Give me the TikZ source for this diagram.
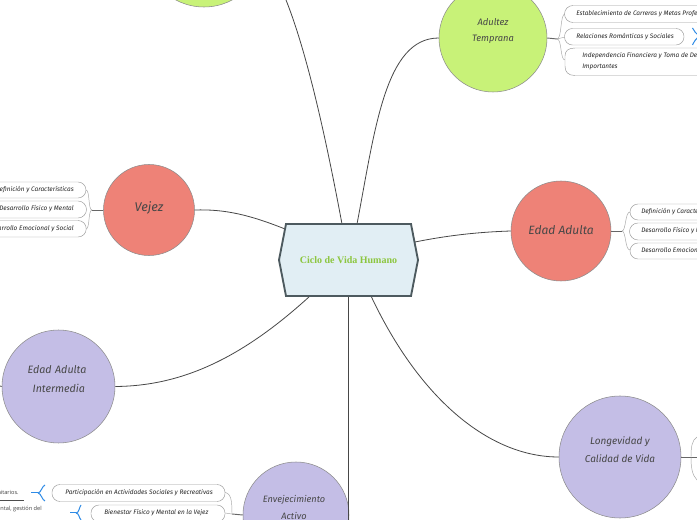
\documentclass[tikz,border=0pt]{standalone}
\usepackage{fontspec}
\setmainfont{Liberation Serif}
\newfontfamily\handfont{Fira Sans}[ItalicFont={Fira Sans Italic}]
\newfontfamily\plainfont{Open Sans}
\definecolor{lime1}{HTML}{C8F278}
\definecolor{red1}{HTML}{EE8277}
\definecolor{purple1}{HTML}{C4BEE6}
\definecolor{blue1}{HTML}{2E8BE6}
\definecolor{hexfill}{HTML}{E1EEF4}
\definecolor{hexline}{HTML}{4D5A5F}
\definecolor{hextext}{HTML}{8CC63F}
\tikzset{
  x=0.75pt,y=-0.75pt,
  conn/.style={draw=black!72!white,line width=0.6pt},
  bigc/.style={circle,draw=black!45!white,line width=0.4pt,inner sep=0pt},
  bigt/.style={inner sep=0pt,align=center,text=black!72,font=\handfont\itshape\fontsize{#1}{13}\selectfont},
  limec/.style={bigc,fill=lime1},
  redc/.style={bigc,fill=red1},
  purc/.style={bigc,fill=purple1},
  pill/.style={draw=black!40!white,line width=0.35pt,fill=white},
  ptext/.style={font=\handfont\itshape\fontsize{4.85}{8}\selectfont,text=black!85,inner sep=0pt,align=left,anchor=west},
  branch/.style={draw=black!35!white,line width=0.35pt},
  hub/.style={draw=black!60!white,line width=0.7pt},
  tick/.style={draw=blue1,line width=0.75pt},
}
\begin{document}
\begin{tikzpicture}
\useasboundingbox (0,0) rectangle (697,520);
\clip (0,0) rectangle (697,520);
\fill[white] (0,0) rectangle (697,520);
% big nodes
\node[limec,minimum size=108*0.75pt] (adultez) at (493,38) {};
\node[limec,minimum size=120*0.75pt] (top) at (204,-53) {};
\node[redc,minimum size=100*0.75pt] (adulta) at (561,231) {};
\node[redc,minimum size=91*0.75pt] (vejez) at (149,210) {};
\node[purc,minimum size=113*0.75pt] (inter) at (58.5,386.5) {};
\node[purc,minimum size=122*0.75pt] (longe) at (620,457) {};
\node[purc,minimum size=106*0.75pt] (acti) at (296,515) {};
\node[bigt=7,font=\handfont\itshape\fontsize{7}{12}\selectfont] (tadultez) at (493,31.5) {Adultez\\Temprana};
\node[bigt=9] (tadulta) at (561,230) {Edad Adulta};
\node[bigt=9.5] (tvejez) at (149,208) {Vejez};
\node[bigt=8,text width=70pt,font=\handfont\itshape\fontsize{8}{14.2}\selectfont] (tinter) at (57,379) {Edad Adulta\\ \ Intermedia};
\node[bigt=7.5,font=\handfont\itshape\fontsize{7.5}{13.5}\selectfont] (tlonge) at (620,450) {Longevidad y\\Calidad de Vida};
\node[bigt=6.9] (tacti) at (294,507.5) {Envejecimiento\\Activo};
% connector ends on the hexagon
\coordinate (hT) at (342,224);
\coordinate (hA) at (357,224);
\coordinate (hR) at (415,242);
\coordinate (hL) at (285,229);
\coordinate (hI) at (310,296);
\coordinate (hB) at (348,296);
\coordinate (hC) at (371,296);
\coordinate (topend) at (286,0);
\coordinate (acB) at (348,520);
\draw[conn] (hT) .. controls (330,160) and (310,60) .. (topend);
\draw[conn] (hA) .. controls (375,130) and (385,38) .. (adultez.west);
\draw[conn] (hR) .. controls (450,235) and (480,232) .. (adulta.west);
\draw[conn] (hL) .. controls (250,215) and (225,209) .. (vejez.east);
\draw[conn] (hI) .. controls (240,360) and (180,386) .. (inter.east);
\draw[conn] (hB) -- (acB);
\draw[conn] (hC) .. controls (420,400) and (490,457) .. (longe.west);
\draw[line width=1.4pt,draw=hexline,fill=hexfill,line join=miter]
  (286,224) -- (411,224) -- (418,260) -- (411,296) -- (286,296) -- (279,260) -- cycle;
\node[font=\bfseries\fontsize{7.5}{9}\selectfont,text=hextext] (hexlabel) at (348.5,260) {Ciclo de Vida Humano};
% Adultez pills
\draw[hub] (adultez.east) -- (557,39);
\draw[branch] (557,39) .. controls (562,39) and (560,14) .. (565,14);
\draw[branch] (557,39) -- (565,37);
\draw[branch] (557,39) .. controls (562,39) and (560,60) .. (565,60);
\draw[pill] (705,5.5) -- (573,5.5) arc[start angle=-90,end angle=-270,radius=8.5] -- (705,22.5);
\draw[pill,rounded corners=6pt] (564.5,28.5) rectangle (684,45);
\draw[pill] (705,48) -- (575,48) .. controls (568,48) and (565,51) .. (565,56) -- (565,66) .. controls (565,72) and (568,75.5) .. (575,75.5) -- (705,75.5);
\node[ptext] (a1) at (576,14) {Establecimiento de Carreras y Metas Profesionales};
\node[ptext] (a2) at (576,36.5) {Relaciones Románticas y Sociales};
\node[ptext] (a3) at (582,61) {Independencia Financiera y Toma de Decisiones\\Importantes};
\draw[tick] (692.5,28) .. controls (694,31) and (696,34) .. (700,36);
\draw[tick] (692.5,45) .. controls (694,42) and (696,38) .. (700,36);
% Edad adulta pills
\draw[hub] (adulta.east) -- (622,231);
\draw[branch] (622,231) .. controls (626,231) and (625,212) .. (630,212);
\draw[branch] (622,231) .. controls (626,231) and (625,250) .. (630,250);
\draw[pill] (705,204) -- (638,204) arc[start angle=-90,end angle=-270,radius=8] -- (705,220);
\draw[pill] (705,223) -- (638,223) arc[start angle=-90,end angle=-270,radius=8.5] -- (705,240);
\draw[pill] (705,243) -- (638,243) arc[start angle=-90,end angle=-270,radius=8] -- (705,259);
\node[ptext] (b1) at (641,212) {Definición y Características};
\node[ptext] (b2) at (641,231) {Desarrollo Físico y Mental};
\node[ptext] (b3) at (641,250.5) {Desarrollo Emocional y Social};
% Vejez pills
\draw[hub] (vejez.west) -- (92,210);
\draw[branch] (92,210) .. controls (88,210) and (90,190) .. (86,190);
\draw[branch] (92,210) .. controls (88,210) and (90,229) .. (86,229);
\draw[pill] (-10,182) -- (78,182) arc[start angle=-90,end angle=90,radius=8] -- (-10,198);
\draw[pill] (-10,201) -- (78,201) arc[start angle=-90,end angle=90,radius=8.5] -- (-10,218);
\draw[pill] (-10,220.5) -- (78,220.5) arc[start angle=-90,end angle=90,radius=8.25] -- (-10,237);
\node[ptext,anchor=east] (c1) at (74,190) {Definición y Características};
\node[ptext,anchor=east] (c2) at (74,209) {Desarrollo Físico y Mental};
\node[ptext,anchor=east] (c3) at (74,228.5) {Desarrollo Emocional y Social};
% Inter stub
\draw[hub] (inter.west) -- (0,386);
% Longevidad
\draw[hub] (longe.east) -- (697,457);
\draw[branch] (697,437) .. controls (692,440) and (691,447) .. (691,457) .. controls (691,467) and (692,475) .. (697,480);
% Envejecimiento pills
\draw[hub] (acti.west) -- (232,514);
\draw[branch] (232,514) .. controls (232,500) and (231,494) .. (225,492);
\draw[branch] (232,514) -- (225,513);
\draw[pill,rounded corners=6pt] (52,484.5) rectangle (225,501.5);
\draw[pill,rounded corners=6pt] (91,505) rectangle (225,522);
\node[ptext] (d1) at (65,492.5) {Participación en Actividades Sociales y Recreativas};
\node[ptext] (d2) at (104,513) {Bienestar Físico y Mental en la Vejez};
% blue ticks and text
\draw[tick] (31,493) -- (38,493);
\draw[tick] (38,493) .. controls (41,493) and (42,486) .. (45,485);
\draw[tick] (38,493) .. controls (41,493) and (42,500) .. (45,501);
\draw[tick] (70,513) -- (76,513);
\draw[tick] (76,513) .. controls (79,513) and (79,508) .. (81,505);
\draw[tick] (76,513) .. controls (79,513) and (79,518) .. (81,520);
\node[font=\plainfont\fontsize{4.2}{6}\selectfont,text=black!75,anchor=east,inner sep=0pt] (e1) at (19,492) {comunitarios.};
\draw[black!70,line width=0.6pt] (0,500) -- (24,500);
\node[font=\plainfont\fontsize{4.2}{6}\selectfont,text=black!75,anchor=east,inner sep=0pt] (e2) at (42,509) {salud mental, gestión del};
\end{tikzpicture}
\end{document}
